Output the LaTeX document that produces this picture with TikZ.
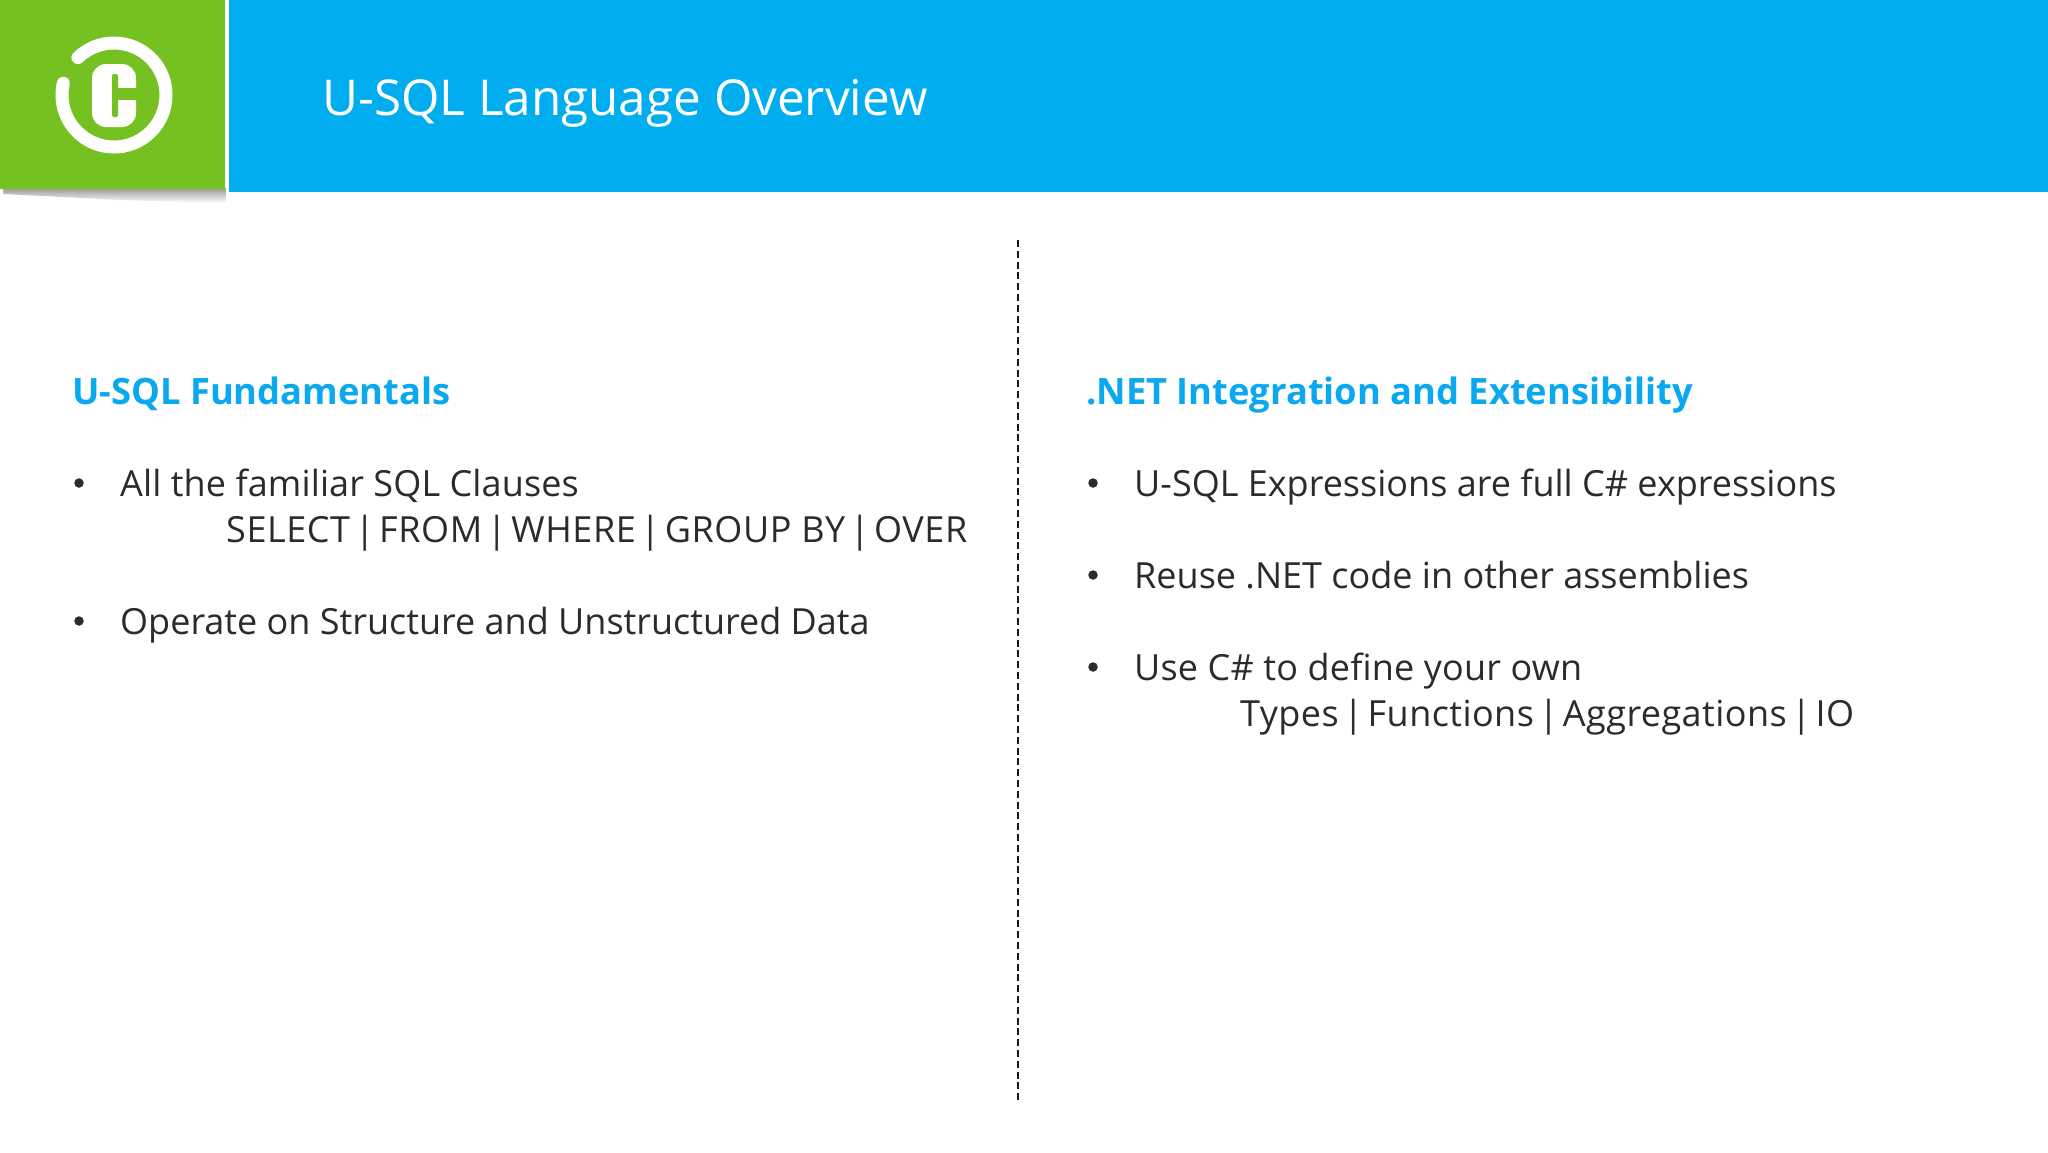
\documentclass[tikz,border=0pt]{standalone}
\usepackage{fontspec}
\setmainfont{Open Sans}
\definecolor{hdrblue}{HTML}{00AEEF}
\definecolor{hdgblue}{HTML}{0AA8EE}
\definecolor{logogreen}{HTML}{76C122}
\definecolor{bodyink}{HTML}{2B2B2B}
\newcommand{\pipesep}{\hspace{4.6pt}|\hspace{4.6pt}}
\tikzset{
  bodytext/.style={anchor=base west,inner sep=0pt,text=bodyink,font=\fontsize{36}{36}\selectfont},
  spacedline/.style={bodytext,font=\fontsize{36}{36}\selectfont\addfontfeature{LetterSpace=#1}},
  headtext/.style={anchor=base west,inner sep=0pt,text=hdgblue,font=\fontsize{36.3}{36.3}\selectfont\bfseries},
  bulletmark/.style={circle,fill=bodyink,inner sep=0pt,minimum size=9.5pt},
  divider/.style={draw=black!90,line width=2pt,dash pattern=on 7pt off 3.8pt},
}
\begin{document}
\begin{tikzpicture}[x=1pt,y=-1pt]
\useasboundingbox (0,0) rectangle (2048,1152);
\fill[white] (0,0) rectangle (2048,1152);
% header
\fill[hdrblue] (229,0) rectangle (2048,192);
\shade[top color=black!40,bottom color=white] (3,188) -- (226,188) -- (226,203) -- (120,200) -- (3,194) -- cycle;
\fill[logogreen] (0,0) rectangle (225,189);
% logo
\draw[white,line width=13pt,line cap=round] (77.9,57.6) arc[start angle=-134,end angle=193,radius=52];
\fill[white,rounded corners=14pt] (92,64) rectangle (136,127);
\fill[logogreen,rounded corners=2pt] (112,74) rectangle (118,117);
\fill[logogreen] (118,88) rectangle (137,100);
\node[anchor=base west,inner sep=0pt,text=white,font=\fontsize{49.4}{49.4}\selectfont] (title) at (322,115) {U-SQL Language Overview};
% divider
\coordinate (divtop) at (1018,240);
\coordinate (divbot) at (1018,1103);
\draw[divider] (divtop) -- (divbot);
% left column
\node[headtext] (lhead) at (72,404) {U-SQL Fundamentals};
\node[bulletmark] (lb1) at (79,483) {};
\node[spacedline=0.3] (l1) at (120,496) {All the familiar SQL Clauses};
\node[spacedline=1.6] (l2) at (226,542) {SELECT\pipesep FROM\pipesep WHERE\pipesep GROUP BY\pipesep OVER};
\node[bulletmark] (lb2) at (79,621) {};
\node[bodytext] (l3) at (120,634) {Operate on Structure and Unstructured Data};
% right column
\node[headtext] (rhead) at (1086,404) {.NET Integration and Extensibility};
\node[bulletmark] (rb1) at (1093,483) {};
\node[bodytext] (r1) at (1134,496) {U-SQL Expressions are full C\# expressions};
\node[bulletmark] (rb2) at (1093,575) {};
\node[bodytext] (r2) at (1134,588) {Reuse .NET code in other assemblies};
\node[bulletmark] (rb3) at (1093,667) {};
\node[spacedline=0.55] (r3) at (1134,680) {Use C\# to define your own};
\node[spacedline=1.2] (r4) at (1240,726) {Types\pipesep Functions\pipesep Aggregations\pipesep IO};
\end{tikzpicture}
\end{document}
